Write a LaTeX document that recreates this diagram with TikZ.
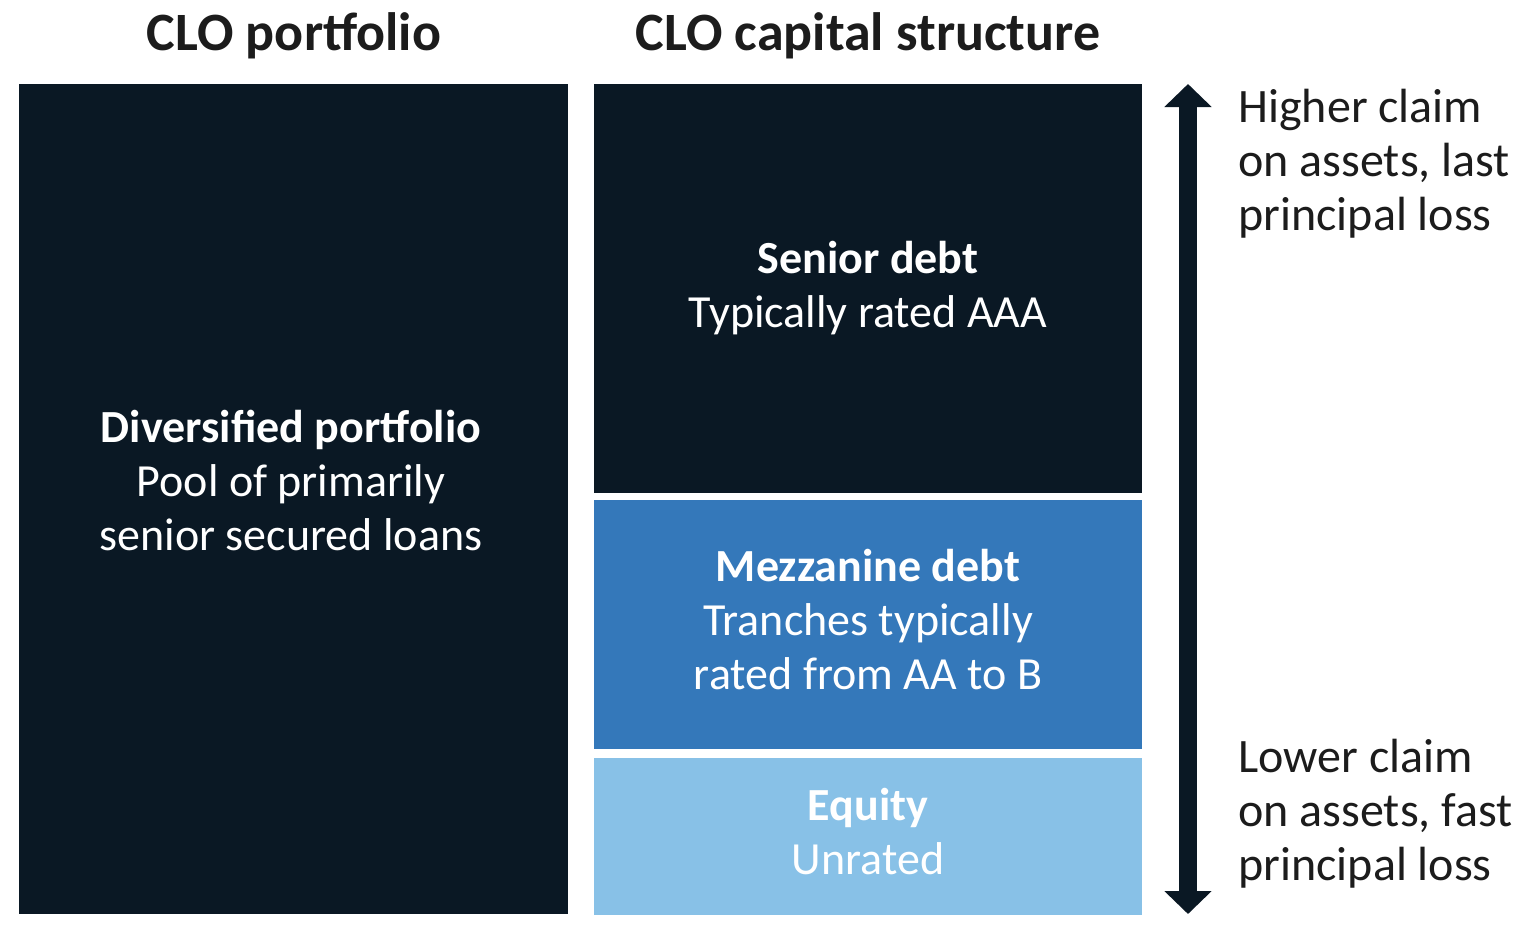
\documentclass[tikz,border=0pt]{standalone}
\usepackage{fontspec}
\setmainfont{Carlito}
\usepackage{xcolor}
\usepackage{tikz}
\usetikzlibrary{positioning, arrows.meta}

\definecolor{clonavy}{HTML}{0A1824}
\definecolor{clomid}{HTML}{3478BA}
\definecolor{clolight}{HTML}{88C1E7}
\definecolor{clotext}{HTML}{1C1C1C}

\tikzset{
  tranche/.style={fill=#1, draw=none, inner sep=0pt, minimum width=274pt},
  boxtext/.style={text=white, align=center, anchor=base, inner sep=0pt,
    font=\fontsize{23}{27}\selectfont},
  headline/.style={text=clotext, anchor=base, inner sep=0pt,
    font=\bfseries\fontsize{27}{30}\selectfont},
  claimtext/.style={text=clotext, align=left, anchor=base west, inner sep=0pt,
    font=\fontsize{24}{27}\selectfont},
  claimarrow/.style={{Triangle[width=23pt,length=11.5pt]}-{Triangle[width=23pt,length=11.5pt]},
    line width=9pt, draw=clonavy},
}

\begin{document}
\begin{tikzpicture}[x=0.5pt,y=-0.5pt]
   \path[fill=white, use as bounding box] (0,0) rectangle (1536,927);

   % boxes
   \node[tranche=clonavy, minimum width=274.5pt, minimum height=415pt, anchor=north west] (pool) at (19,84) {};
   \node[tranche=clonavy, minimum height=204.5pt, anchor=north west] (senior) at (594,84) {};
   \node[tranche=clomid, minimum height=124.5pt, below=3pt of senior] (mezz) {};
   \node[tranche=clolight, minimum height=78.5pt, below=4pt of mezz] (equity) {};

   % titles
   \node[headline] (pooltitle) at (294,50) {CLO portfolio};
   \node[headline] (captitle) at (868,50) {CLO capital structure};

   % box texts (anchored on the last line)
   \node[boxtext] (pooltext) at (291,550) {\textbf{Diversified portfolio}\\Pool of primarily\\senior secured loans};
   \node[boxtext] (seniortext) at (868,327) {\textbf{Senior debt}\\Typically rated AAA};
   \node[boxtext] (mezztext) at (868,689) {\textbf{Mezzanine debt}\\Tranches typically\\rated from AA to B};
   \node[boxtext] (equitytext) at (868,874) {\textbf{Equity}\\Unrated};

   % claim arrow
   \coordinate (claimtop) at (1188,84);
   \coordinate (claimbot) at (1188,914);
   \draw[claimarrow] (claimtop) -- (claimbot);

   \node[claimtext] (hightext) at (1238,230) {Higher claim\\on assets, last\\principal loss};
   \node[claimtext] (lowtext) at (1238,880) {Lower claim\\on assets, fast\\principal loss};
\end{tikzpicture}
\end{document}
